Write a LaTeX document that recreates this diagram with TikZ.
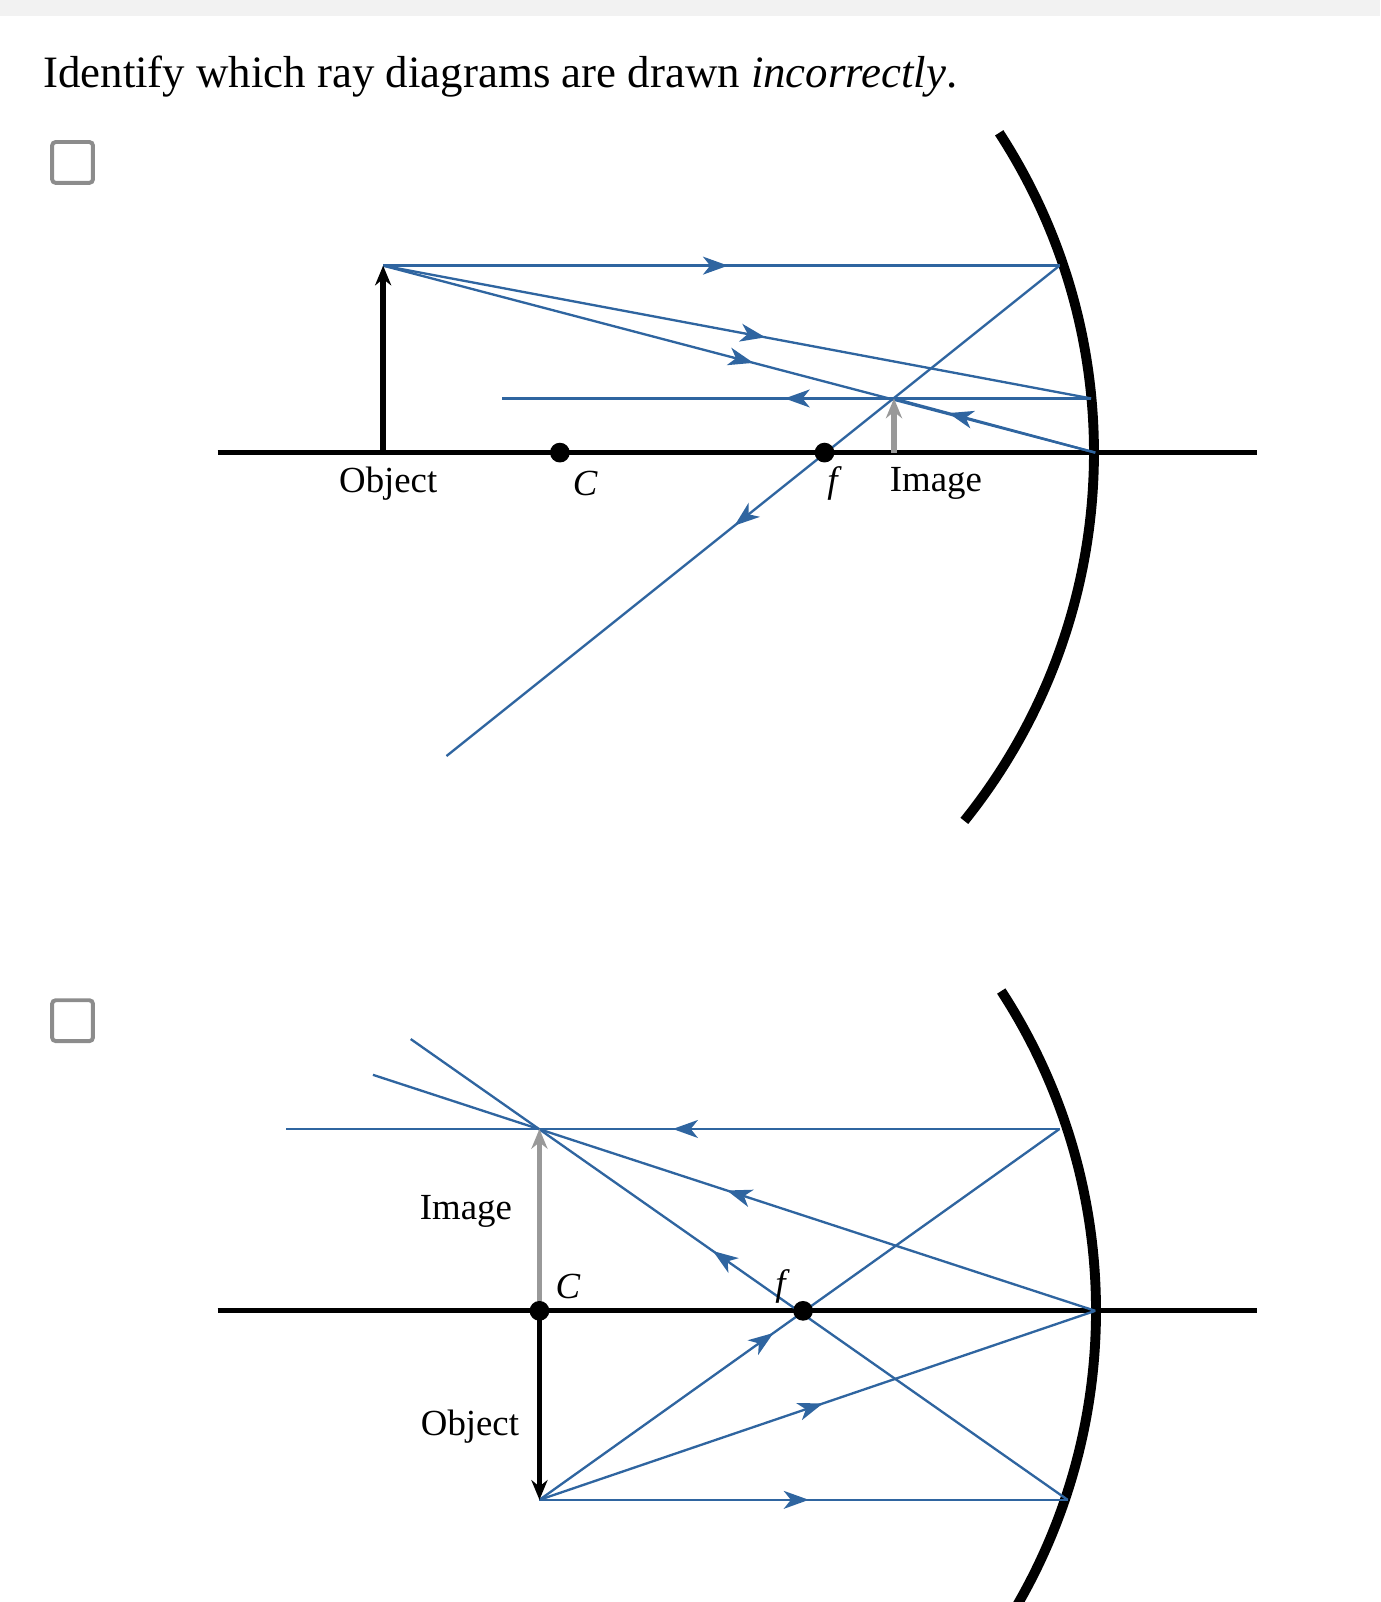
\documentclass[tikz,border=0pt]{standalone}
\usepackage{fontspec}
\setmainfont{Liberation Serif}
\usetikzlibrary{arrows.meta,decorations.markings}
\definecolor{ray}{HTML}{2F65A0}
\tikzset{
 raypath/.style={draw=ray,line width=1.3pt},
 mk/.style={postaction={decorate},decoration={markings,mark=at position #1 with {\arrow[ray]{Stealth[length=14pt,width=10pt,inset=4pt]}}}},
 axis/.style={line width=2.8pt},
 mirror/.style={line width=5.5pt},
 lbl/.style={font=\fontsize{20.5}{24}\selectfont},
 dot/.style={circle,fill=black,inner sep=0pt,minimum size=11pt},
 chk/.style={draw=black!45,line width=2.2pt,rounded corners=2pt,minimum size=0.8cm,inner sep=0pt},
 objarr/.style={line width=3pt,-{Stealth[length=11pt,width=9pt]}},
 imgarr/.style={draw=black!40,line width=3pt,-{Stealth[length=11pt,width=9pt]}}
}
\begin{document}
\begin{tikzpicture}[x=0.02cm,y=-0.02cm]
\useasboundingbox (0,0) rectangle (1351,1568);
\fill[black!5] (0,0) rectangle (1351,16);
\node[anchor=base west,inner sep=0pt,font=\fontsize{25}{30}\selectfont] (title) at (42,86) {Identify which ray diagrams are drawn \textit{incorrectly}.};
\node[chk] (cb1) at (71,159) {};
\node[chk] (cb2) at (71,999) {};
% ---------- diagram 1 ----------
\coordinate (a1l) at (213,443); \coordinate (a1r) at (1230,443);
\draw[axis] (a1l) -- (a1r);
\draw[mirror] (978,130) arc[start angle=-33.0,end angle=38.8,radius=575];
\coordinate (ob1) at (375,443); \coordinate (ot1) at (375,260);
\coordinate (m1a) at (1037,260); \coordinate (m1b) at (1068,390); \coordinate (m1v) at (1072,443);
\coordinate (e1a) at (437,740); \coordinate (e1b) at (491,390);
\coordinate (ib1) at (875,443); \coordinate (it1) at (875,390);
\draw[raypath,mk=0.51] (ot1) -- (m1a);
\draw[raypath,mk=0.53] (m1a) -- (e1a);
\draw[raypath,mk=0.54] (ot1) -- (m1b);
\draw[raypath,mk=0.52] (m1b) -- (e1b);
\draw[raypath,mk=0.52] (ot1) -- (m1v);
\draw[raypath,mk=0.73] (m1v) -- (it1);
\draw[objarr] (ob1) -- (ot1);
\draw[imgarr] (ib1) -- (it1);
\node[dot] (C1) at (548,443) {};
\node[dot] (f1) at (807,443) {};
\node[lbl] (lo1) at (380,473) {Object};
\node[lbl] (lc1) at (573,473) {\textit{C}};
\node[lbl] (lf1) at (817,473) {\textit{f}};
\node[lbl] (li1) at (916,473) {Image};
% ---------- diagram 2 ----------
\coordinate (a2l) at (213,1283); \coordinate (a2r) at (1230,1283);
\draw[axis] (a2l) -- (a2r);
\draw[mirror] (980,970) arc[start angle=-33.0,end angle=44.5,radius=575];
\coordinate (ob2) at (528,1283); \coordinate (ot2) at (528,1468);
\coordinate (m2a) at (1045,1468); \coordinate (m2b) at (1037,1105); \coordinate (m2v) at (1072,1283);
\coordinate (e2a) at (402,1017); \coordinate (e2b) at (280,1105); \coordinate (e2c) at (365,1052);
\coordinate (it2) at (528,1105);
\draw[raypath,mk=0.51] (ot2) -- (m2a);
\draw[raypath,mk=0.54] (m2a) -- (e2a);
\draw[raypath,mk=0.45] (ot2) -- (m2b);
\draw[raypath,mk=0.50] (m2b) -- (e2b);
\draw[raypath,mk=0.51] (ot2) -- (m2v);
\draw[raypath,mk=0.51] (m2v) -- (e2c);
\draw[objarr] (ob2) -- (ot2);
\draw[imgarr] (ob2) -- (it2);
\node[dot] (C2) at (528,1283) {};
\node[dot] (f2) at (786,1283) {};
\node[lbl] (lo2) at (460,1396) {Object};
\node[lbl] (lc2) at (556,1259) {\textit{C}};
\node[lbl] (lf2) at (766,1259) {\textit{f}};
\node[lbl] (li2) at (456,1186) {Image};
\end{tikzpicture}
\end{document}
